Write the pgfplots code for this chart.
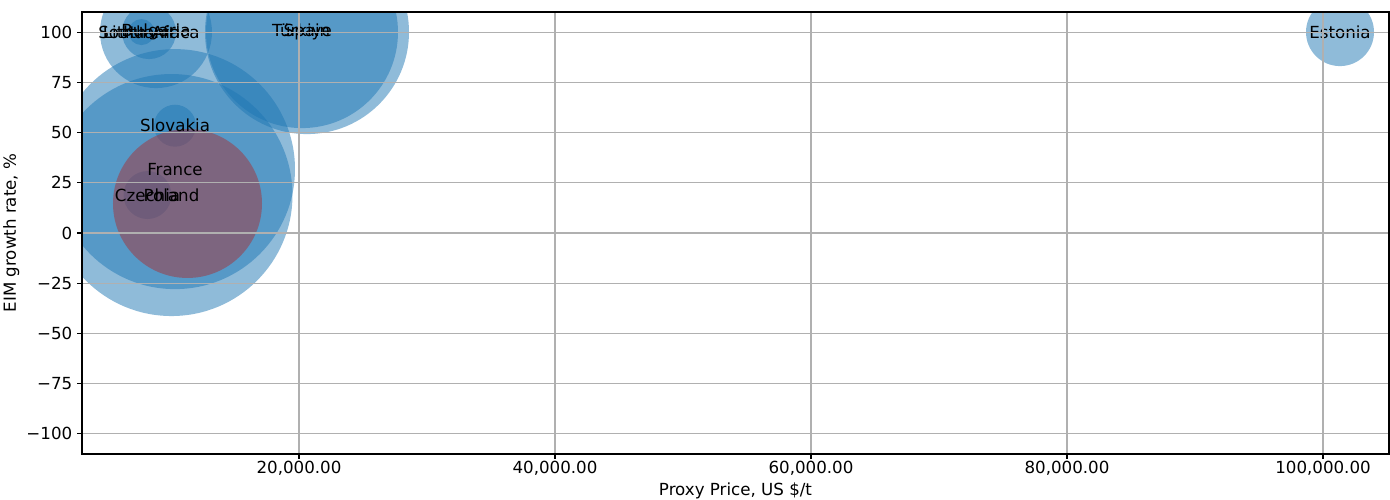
\documentclass[border=0pt]{standalone}
\usepackage{pgfplots}
\pgfplotsset{compat=1.18}
\usepackage{fontspec}
\setmainfont{DejaVu Sans}
\definecolor{tabblue}{RGB}{31,119,180}
\definecolor{hl}{RGB}{165,51,57}
\definecolor{gridc}{RGB}{176,176,176}
\newcommand{\twelve}{\fontsize{12}{14}\selectfont}
\begin{document}
\begin{tikzpicture}
\path[use as bounding box] (0,0) rectangle (1000.8pt,359.28pt);
\begin{axis}[
  at={(59.04pt,32.4pt)}, anchor=south west,
  scale only axis, width=941.04pt, height=318.24pt,
  xmin=3047, xmax=105156, ymin=-110, ymax=110,
  scaled x ticks=false, scaled y ticks=false,
  xtick={20000,40000,60000,80000,100000},
  xticklabels={{20,000.00},{40,000.00},{60,000.00},{80,000.00},{100,000.00}},
  ytick={-100,-75,-50,-25,0,25,50,75,100},
  yticklabels={−100,−75,−50,−25,0,25,50,75,100},
  /pgf/number format/assume math mode=true,
  grid=major, major grid style={gridc, line width=0.8pt},
  axis line style={line width=0.8pt},
  tick style={black, line width=0.8pt}, tick align=outside, major tick length=3.5pt,
  xtick pos=lower, ytick pos=left,
  ticklabel style={font=\twelve},
  xticklabel style={yshift=2pt},
  axis on top,
  clip marker paths=true,
  xlabel={Proxy Price, US \$/t}, ylabel={EIM growth rate, \%},
  label style={font=\twelve},
  xlabel style={at={(axis description cs:0.5,-0.0928)}, anchor=base},
  ylabel style={at={(axis description cs:-0.0505,0.5)}, anchor=base},
  bub/.style={color=tabblue, only marks, mark=*, mark size=#1,
     mark options={draw opacity=0, fill=tabblue, fill opacity=0.5}},
]
% Lithuania
\addplot[bub=9.36pt] coordinates {(7695,100)};
% South Africa
\addplot[bub=19.44pt] coordinates {(8281,100)};
% Bulgaria
\addplot[bub=40.32pt] coordinates {(8828,100)};
% Turkiye
\addplot[bub=69.12pt] coordinates {(20234,100)};
% Spain
\addplot[bub=73.44pt] coordinates {(20625,100)};
% Slovakia
\addplot[bub=15.12pt] coordinates {(10312,53.4)};
% France
\addplot[bub=86.4pt] coordinates {(10312,31.8)};
% Czechia
\addplot[bub=17.28pt] coordinates {(8164,18.9)};
% Poland
\addplot[bub=87.12pt] coordinates {(10039,18.9)};
% Estonia
\addplot[bub=24.48pt] coordinates {(101328,100)};
% highlighted bubble
\addplot[color=hl, only marks, mark=*, mark size=53.64pt,
  mark options={draw opacity=0, fill=hl, fill opacity=0.5}] coordinates {(11289,14.7)};
% labels
\addplot[draw=none, mark=none, nodes near coords, point meta=explicit symbolic,
  nodes near coords style={anchor=center, font=\twelve, text=black, inner sep=0pt}]
  coordinates {
  (7695,100) [Lithuania]
  (8281,100) [South Africa]
  (8828,100) [Bulgaria]
  (20234,100) [Türkiye]
  (20625,100) [Spain]
  (10312,53.4) [Slovakia]
  (10312,31.8) [France]
  (8164,18.9) [Czechia]
  (10039,18.9) [Poland]
  (101328,100) [Estonia]
  };
\end{axis}
\end{tikzpicture}
\end{document}
